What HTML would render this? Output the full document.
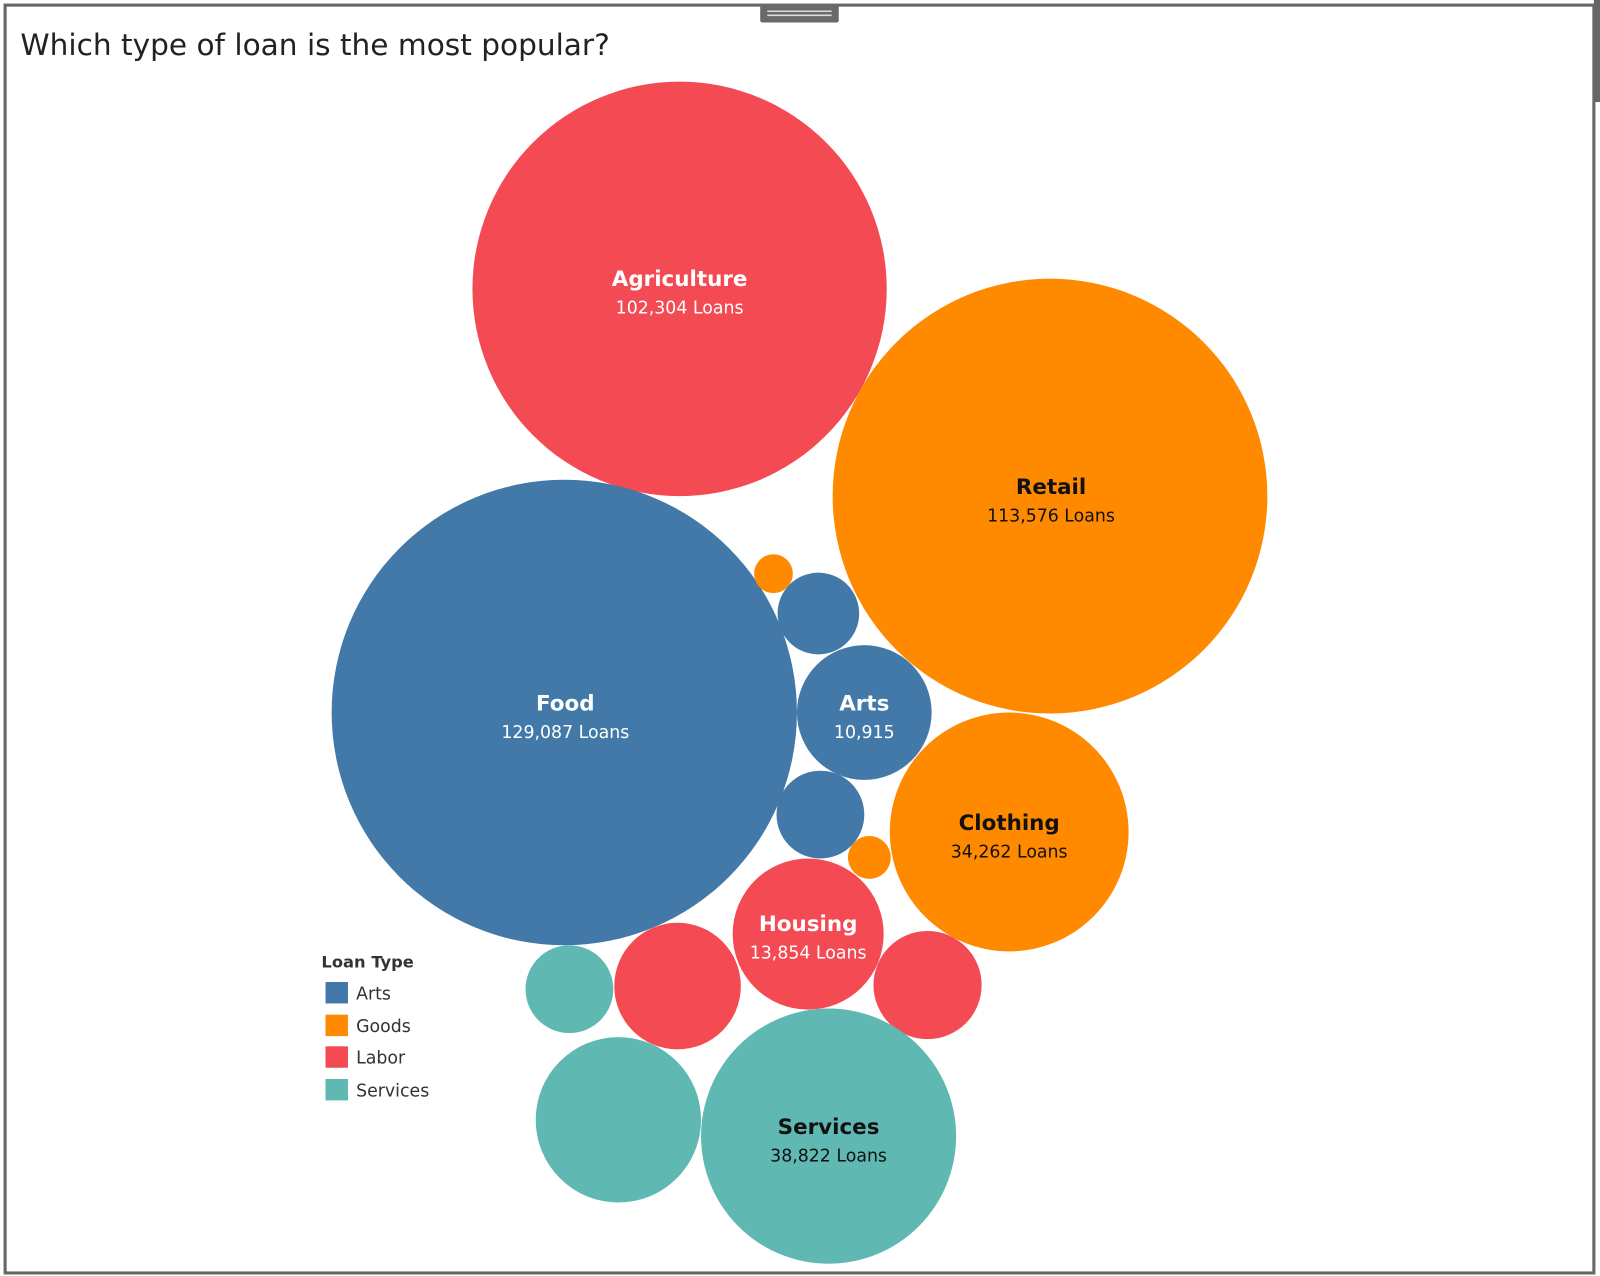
<!DOCTYPE html>
<html><head><meta charset="utf-8"><style>
html,body{margin:0;padding:0;background:#fff;width:1600px;height:1276px;overflow:hidden}
svg{display:block}
text{font-family:"DejaVu Sans","Liberation Sans",sans-serif}
</style></head><body>
<svg width="1600" height="1276" viewBox="0 0 1568 1250" preserveAspectRatio="none">
<rect x="0" y="0" width="1568" height="1250" fill="#fff"/>
<rect x="5" y="5" width="1557" height="1242" fill="none" stroke="#666" stroke-width="3"/>
<rect x="1562" y="0" width="6" height="100" fill="#666"/>
<rect x="745" y="4" width="77" height="18" rx="2" fill="#6a6a6a"/>
<line x1="752" y1="11" x2="815" y2="11" stroke="#ddd" stroke-width="1.5"/>
<line x1="752" y1="15" x2="815" y2="15" stroke="#ddd" stroke-width="1.5"/>
<text x="20" y="54" font-size="29" fill="#222" font-family="Liberation Sans, sans-serif">Which type of loan is the most popular?</text>

<g>
<circle cx="666" cy="283" r="203" fill="#F44A54"/>
<circle cx="1029" cy="486" r="213" fill="#FF8A00"/>
<circle cx="553" cy="698" r="228" fill="#4279A9"/>
<circle cx="758" cy="562" r="19" fill="#FF8A00"/>
<circle cx="802" cy="601" r="40" fill="#4279A9"/>
<circle cx="847" cy="698" r="66" fill="#4279A9"/>
<circle cx="989" cy="815" r="117" fill="#FF8A00"/>
<circle cx="804" cy="798" r="43" fill="#4279A9"/>
<circle cx="852" cy="840" r="21" fill="#FF8A00"/>
<circle cx="792" cy="915" r="74" fill="#F44A54"/>
<circle cx="664" cy="966" r="62" fill="#F44A54"/>
<circle cx="909" cy="965" r="53" fill="#F44A54"/>
<circle cx="558" cy="969" r="43" fill="#5FB8B1"/>
<circle cx="606" cy="1097" r="81" fill="#5FB8B1"/>
<circle cx="812" cy="1113" r="125" fill="#5FB8B1"/>
</g>

<g text-anchor="middle">
<text x="666" y="280" font-size="21" font-weight="bold" fill="#fff">Agriculture</text>
<text x="666" y="307" font-size="17" fill="#fff">102,304 Loans</text>
<text x="1030" y="484" font-size="21" font-weight="bold" fill="#111">Retail</text>
<text x="1030" y="511" font-size="17" fill="#111">113,576 Loans</text>
<text x="554" y="696" font-size="21" font-weight="bold" fill="#fff">Food</text>
<text x="554" y="723" font-size="17" fill="#fff">129,087 Loans</text>
<text x="847" y="696" font-size="21" font-weight="bold" fill="#fff">Arts</text>
<text x="847" y="723" font-size="17" fill="#fff">10,915</text>
<text x="989" y="813" font-size="21" font-weight="bold" fill="#111">Clothing</text>
<text x="989" y="840" font-size="17" fill="#111">34,262 Loans</text>
<text x="792" y="912" font-size="21" font-weight="bold" fill="#fff">Housing</text>
<text x="792" y="939" font-size="17" fill="#fff">13,854 Loans</text>
<text x="812" y="1111" font-size="21" font-weight="bold" fill="#111">Services</text>
<text x="812" y="1138" font-size="17" fill="#111">38,822 Loans</text>
</g>

<text x="315" y="948" font-size="16" font-weight="bold" fill="#333" font-family="Liberation Sans, sans-serif">Loan Type</text>
<rect x="319" y="962" width="22" height="21" fill="#4279A9"/>
<rect x="319" y="994" width="22" height="21" fill="#FF8A00"/>
<rect x="319" y="1025" width="22" height="21" fill="#F44A54"/>
<rect x="319" y="1057" width="22" height="21" fill="#5FB8B1"/>
<g font-size="17" fill="#333">
<text x="349" y="979">Arts</text>
<text x="349" y="1011">Goods</text>
<text x="349" y="1042">Labor</text>
<text x="349" y="1074">Services</text>
</g>
</svg>
</body></html>
